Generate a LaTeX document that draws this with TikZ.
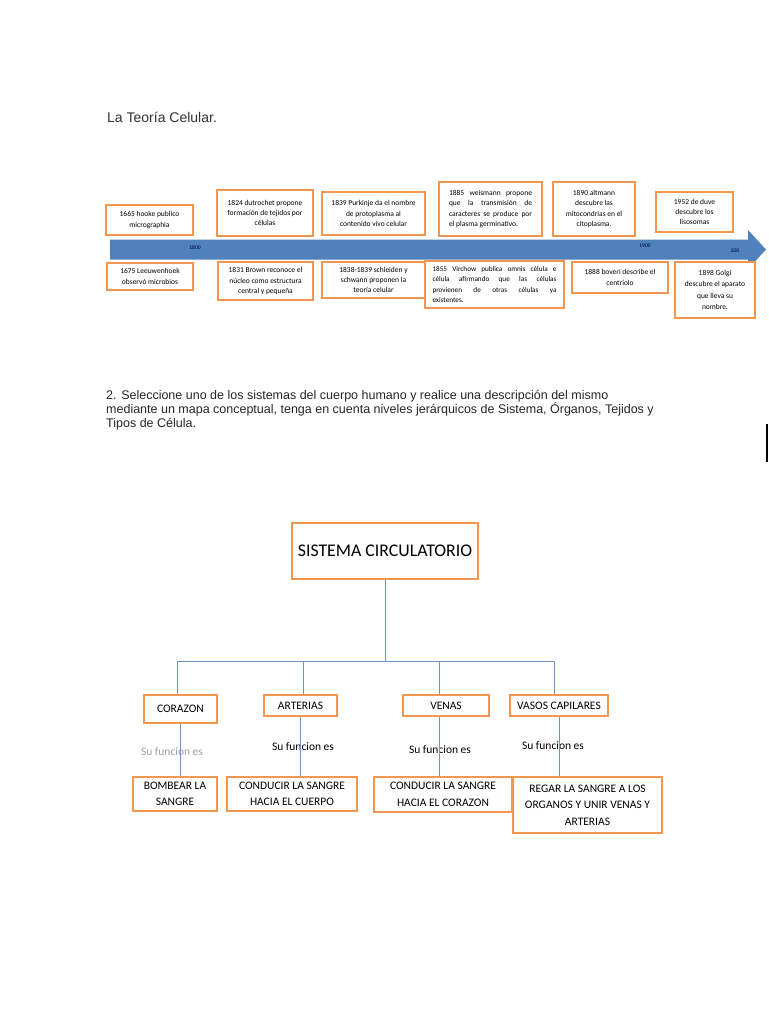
\documentclass[tikz,border=0pt]{standalone}
\usepackage{fontspec}
\setmainfont{Carlito}
\newfontfamily\arialfont{Liberation Sans}
\definecolor{boxorange}{RGB}{242,150,80}
\definecolor{lineblue}{RGB}{112,146,196}
\definecolor{arrowblue}{RGB}{79,129,189}
\definecolor{labgray}{RGB}{160,160,160}
\newcommand\tlfont{\fontsize{7.5}{10.3}\selectfont\hyphenpenalty=10000 \exhyphenpenalty=10000\relax}
\begin{document}
\begin{tikzpicture}[x=1pt,y=-1pt]
        \tikzset{
          obox/.style={
            draw=boxorange,
            line width=2pt,
            fill=white,
            inner sep=0pt,
            align=center,
          },
          tlbox/.style={obox, line width=1.8pt, font=\tlfont},
          tljust/.style={tlbox, align=justify, text width=#1},
          mapbox/.style={obox, font=\fontsize{11.5}{16.5}\selectfont},
          conn/.style={draw=lineblue, line width=0.9pt},
          funlabel/.style={font=\fontsize{11.5}{14}\selectfont, inner sep=0pt},
          yrlabel/.style={font=\fontsize{5.5}{6}\selectfont, text=black!80!blue, inner sep=0pt},
        }
        \useasboundingbox[fill=white] (0,0) rectangle (768,1024);

        \node[anchor=base west, inner sep=0pt, text=black!80,
          font=\arialfont\fontsize{14}{17}\selectfont] (titulo) at (107,123) {La Teoría Celular.};

        % linea de tiempo
        \fill[arrowblue] (110,239.5) -- (748,239.5) -- (748,230) -- (766,249.5)
          -- (748,269) -- (748,259.5) -- (110,259.5) -- cycle;
        \node[yrlabel] (y1800) at (195,248) {1800};
        \node[yrlabel] (y1900) at (645,246) {1900};
        \node[yrlabel] (y200) at (735,251) {200};

        \node[tlbox, minimum width=87pt, minimum height=30pt] (t1665) at (149.5,220) {1665 hooke publico\\micrographia};
        \node[tlbox, minimum width=86pt, minimum height=27pt] (t1675) at (150,276.5) {1675 Leeuwenhoek\\observó microbios};
        \node[tlbox, minimum width=96pt, minimum height=46pt] (t1824) at (265,213) {1824 dutrochet propone\\formación de tejidos por\\células};
        \node[tlbox, minimum width=95pt, minimum height=38pt] (t1831) at (265.5,281) {1831 Brown reconoce el\\núcleo como estructura\\central y pequeña};
        \node[tlbox, minimum width=103pt, minimum height=43pt] (t1839) at (373.5,213.5) {1839 Purkinje da el nombre\\de protoplasma al\\contenido vivo celular};
        \node[tlbox, minimum width=103pt, minimum height=36pt] (t1838) at (373.5,280) {1838-1839 schleiden y\\schwann proponen la\\teoría celular};
        \node[tljust=83pt, minimum width=103pt, minimum height=54pt] (t1885) at (490.5,209) {1885 weismann propone que la transmisión de caracteres se produce por el plasma germinativo.};
        \node[tljust=124pt, minimum width=139pt, minimum height=47pt, font=\fontsize{7.2}{10.3}\selectfont] (t1855) at (494.5,284.5) {1855 Virchow publica omnis célula e\linebreak célula afirmando que las células\linebreak provienen de otras células ya\linebreak existentes.};
        \node[tlbox, minimum width=82pt, minimum height=54pt] (t1890) at (594,209) {1890 altmann\\descubre las\\mitocondrias en el\\citoplasma.};
        \node[tlbox, minimum width=96pt, minimum height=31pt] (t1888) at (620,277.5) {1888 boveri describe el\\centriolo};
        \node[tlbox, minimum width=77pt, minimum height=40pt] (t1952) at (694.5,212) {1952 de duve\\descubre los\\lisosomas};
        \node[tlbox, minimum width=80pt, minimum height=56pt, font=\fontsize{7.5}{11.6}\selectfont] (t1898) at (715,290) {1898 Golgi\\descubre el aparato\\que lleva su\\nombre.};

        \node[anchor=base west, align=left, inner sep=0pt, text=black!85,
          font=\arialfont\fontsize{12.5}{14}\selectfont] (enunciado) at (106,427)
          {2. Seleccione uno de los sistemas del cuerpo humano y realice una descripción del mismo\\
           mediante un mapa conceptual, tenga en cuenta niveles jerárquicos de Sistema, Órganos, Tejidos y\\
           Tipos de Célula.};
        \fill[black] (765.5,424) rectangle (768,462);

        % mapa conceptual
        \node[mapbox, font=\fontsize{17.8}{20}\selectfont, minimum width=186pt, minimum height=56pt] (sis) at (385,551) {SISTEMA CIRCULATORIO};
        \node[mapbox, minimum width=73pt, minimum height=28pt] (cor) at (180.5,709) {CORAZON};
        \node[mapbox, minimum width=73pt, minimum height=21pt] (art) at (300.5,705.5) {ARTERIAS};
        \node[mapbox, minimum width=86pt, minimum height=21pt] (ven) at (446,705.5) {VENAS};
        \node[mapbox, minimum width=98pt, minimum height=21pt] (vas) at (559,705.5) {VASOS CAPILARES};

        \node[mapbox, minimum width=84pt, minimum height=34pt] (bom) at (175,794) {BOMBEAR LA\\SANGRE};
        \node[mapbox, minimum width=130pt, minimum height=34pt] (cuer) at (292,794) {CONDUCIR LA SANGRE\\HACIA EL CUERPO};
        \node[mapbox, minimum width=138pt, minimum height=35pt] (cora) at (443,794.5) {CONDUCIR LA SANGRE\\HACIA EL CORAZON};
        \node[mapbox, minimum width=149pt, minimum height=56pt] (reg) at (587.5,805) {REGAR LA SANGRE A LOS\\ORGANOS Y UNIR VENAS Y\\ARTERIAS};

        \node[funlabel, text=labgray] (f1) at (172,752) {Su funcion es};
        \node[funlabel] (f2) at (303,747) {Su funcion es};
        \node[funlabel] (f3) at (440,750) {Su funcion es};
        \node[funlabel] (f4) at (553,746) {Su funcion es};

        \coordinate (bus) at (385,661);
        \draw[conn] (sis.south) -- (bus);
        \draw[conn] (bus) -| ([xshift=-3.5pt]cor.north);
        \draw[conn] (bus) -| ([xshift=2.5pt]art.north);
        \draw[conn] (bus) -| ([xshift=-7pt]ven.north);
        \draw[conn] (bus) -| ([xshift=-5pt]vas.north);

        \draw[conn] (cor.south) -- (cor.south |- bom.north);
        \draw[conn] (art.south) -- (art.south |- cuer.north);
        \draw[conn] ([xshift=-7pt]ven.south) -- ([xshift=-7pt]ven.south |- cora.north);
        \draw[conn] (vas.south) -- (vas.south |- reg.north);
\end{tikzpicture}
\end{document}
